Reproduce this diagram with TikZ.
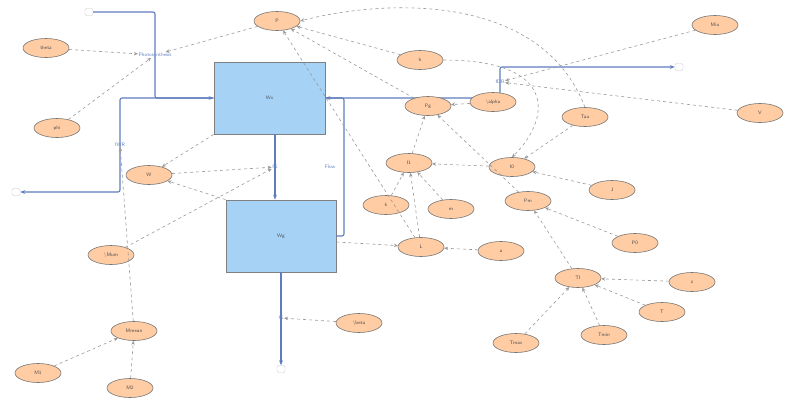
\documentclass[tikz,border=0pt]{standalone}
\usetikzlibrary{arrows.meta,shapes.geometric}
\begin{document}
\begin{tikzpicture}[x=1pt,y=-1pt,font=\fontsize{5}{6}\selectfont\sffamily,
 var/.style={ellipse,draw=black!55,fill={rgb,255:red,255;green,204;blue,164},line width=0.6pt,minimum width=46pt,minimum height=19pt,inner sep=0pt,text=black!70},
 stock/.style={draw=black!50,line width=0.8pt,text=black!70},
 link/.style={draw=black!40,dashed,line width=0.6pt,-{Stealth[length=4pt,width=3.5pt]}},
 flow/.style={draw={rgb,255:red,95;green,125;blue,190},line width=1.1pt,rounded corners=2pt},
 flab/.style={text={rgb,255:red,95;green,125;blue,190},inner sep=0.5pt},
 cloud/.style={draw=black!20,fill=white,rounded corners=2pt,minimum width=8pt,minimum height=7pt,inner sep=0pt}]
\useasboundingbox (0,0) rectangle (800,407);
\definecolor{stk}{RGB}{166,210,246}
% stocks
\node[stock,fill=stk,minimum width=111pt,minimum height=72pt] (Wx) at (269.5,98) {Wx};
\node[stock,fill=stk,minimum width=110pt,minimum height=72pt] (Wg) at (281,236) {Wg};
% clouds
\node[cloud] (c1) at (89,12) {};
\node[cloud] (c2) at (16,192) {};
\node[cloud] (c3) at (679,67) {};
\node[cloud] (c4) at (281,369) {};
% valves
\node[flab] (vP) at (155,55) {Photosynthesis};
\node[flab] (vWR) at (120,145) {fWR};
\node[flab] (vDR) at (500,82) {fDR};
\node[flab] (vG) at (275,167) {fG};
\node[flab] (vS) at (281,318) {fS};
\node[flab] (fl) at (330,167) {Flow};
% flows
\draw[flow,-{Stealth[length=5pt]}] (c1.east) -- (155,12) -- (155,98) -- (Wx.west);
\draw[flow,-{Stealth[length=5pt]}] (Wx.west) -- (120,98) -- (120,192) -- (c2.east);
\draw[flow,-{Stealth[length=5pt]}] (Wx.east) -- (500,98) -- (500,67) -- (c3.west);
\draw[flow,-{Stealth[length=5pt]}] (Wx.south -| vG) -- (Wg.north -| vG);
\draw[flow,-{Stealth[length=5pt]}] (Wg.east |- 0,236) -- (344,236) -- (344,98) -- (Wx.east);
\draw[flow,-{Stealth[length=5pt]}] (Wg.south -| vS) -- (c4.north);
% variables
\node[var] (theta) at (46,48) {theta};
\node[var] (phi) at (57,128) {phi};
\node[var] (P) at (277,21) {P};
\node[var] (h) at (420,60) {h};
\node[var] (Pg) at (428,106) {Pg};
\node[var] (alpha) at (493,102) {\textbackslash alpha};
\node[var] (Miu) at (715,25) {Miu};
\node[var] (V) at (760,113) {V};
\node[var] (Tau) at (585,117) {Tau};
\node[var] (I1) at (409,163) {I1};
\node[var] (I0) at (512,167) {I0};
\node[var] (J) at (612,190) {J};
\node[var] (k) at (386,205) {k};
\node[var] (m) at (451,209) {m};
\node[var] (Pm) at (528,201) {Pm};
\node[var] (P0) at (635,243) {P0};
\node[var] (L) at (421,247) {L};
\node[var] (a) at (501,251) {a};
\node[var] (TI) at (578,278) {TI};
\node[var] (z) at (692,282) {z};
\node[var] (T) at (662,312) {T};
\node[var] (Tmax) at (516,343) {Tmax};
\node[var] (Tmin) at (604,335) {Tmin};
\node[var] (W) at (149,175) {W};
\node[var] (Mum) at (111,255) {\textbackslash Mum};
\node[var] (Mmean) at (134,331) {Mmean};
\node[var] (M1) at (38,373) {M1};
\node[var] (M2) at (130,388) {M2};
\node[var] (beta) at (359,323) {\textbackslash beta};
% links
\draw[link] (theta) -- (vP);
\draw[link] (phi) -- (vP);
\draw[link] (P) -- (vP);
\draw[link] (h) -- (P);
\draw[link] (Pg) -- (P);
\draw[link] (L) -- (P);
\draw[link] (Tau.north) .. controls (540,-10) and (380,0) .. (P.east);
\draw[link] (alpha) -- (Pg);
\draw[link] (I1) -- (Pg);
\draw[link] (Pm) -- (Pg);
\draw[link] (I0) -- (I1);
\draw[link] (k) -- (I1);
\draw[link] (m) -- (I1);
\draw[link] (L) -- (I1);
\draw[link] (h.east) .. controls (560,60) and (550,120) .. (I0.north);
\draw[link] (Tau) -- (I0);
\draw[link] (J) -- (I0);
\draw[link] (Wg.east |- 0,242) -- (L);
\draw[link] (a) -- (L);
\draw[link] (P0) -- (Pm);
\draw[link] (TI) -- (Pm);
\draw[link] (z) -- (TI);
\draw[link] (T) -- (TI);
\draw[link] (Tmax) -- (TI);
\draw[link] (Tmin) -- (TI);
\draw[link] (Miu) -- (vDR);
\draw[link] (V) -- (vDR);
\draw[link] (Wx.south west) -- (W);
\draw[link] (Wg.north west) -- (W);
\draw[link] (W) -- (vG);
\draw[link] (Mum) -- (vG);
\draw[link] (Mmean) -- (vWR);
\draw[link] (M1) -- (Mmean);
\draw[link] (M2) -- (Mmean);
\draw[link] (beta) -- (vS);
\end{tikzpicture}
\end{document}
